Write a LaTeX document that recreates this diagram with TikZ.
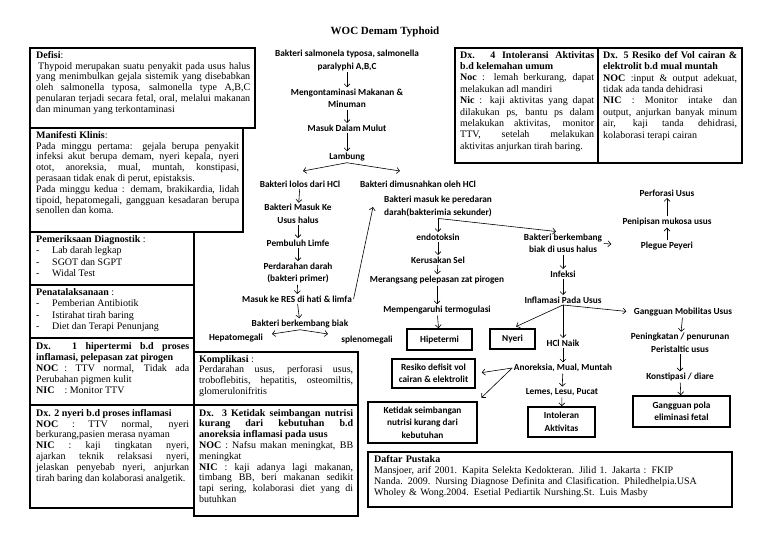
\documentclass[tikz,border=0pt]{standalone}
\usepackage{fontspec}
\setmainfont{Liberation Serif}
\newfontfamily\flowfont{Carlito}
\usetikzlibrary{arrows.meta,calc}
\setlength{\parindent}{0pt}
\hyphenpenalty=10000
\exhyphenpenalty=10000
\tolerance=9999
\emergencystretch=20pt
\begin{document}
\begin{tikzpicture}[x=1pt,y=-1pt,
  flow/.style={font=\flowfont\bfseries\fontsize{9.3}{12.5}\selectfont, align=center, inner sep=1.5pt},
  fbox/.style={flow, draw, line width=1.6pt, inner sep=0pt},
  arr/.style={-{Straight Barb[length=3pt,width=6pt]}, line width=0.6pt},
  frame/.style={line width=1.4pt},
  txt/.style={anchor=north west, inner sep=0pt, align=justify, font=\fontsize{10}{10.8}\selectfont},
]
\fill[white] (0,0) rectangle (768,543);
\useasboundingbox (0,0) rectangle (768,543);

% title
\node[font=\bfseries\fontsize{11}{13}\selectfont] (title) at (385,32) {WOC Demam Typhoid};

% ---------- frames ----------
\draw[frame] (30,48) rectangle (255,128);
\draw[frame] (30,128) rectangle (243,232);
\draw[frame] (30,232) rectangle (194,285);
\draw[frame] (30,285) rectangle (194,338);
\draw[frame] (30,338) rectangle (194,405);
\draw[frame] (30,405) rectangle (194,508);
\draw[frame] (194,352) rectangle (358,405);
\draw[frame] (194,405) rectangle (358,516);
\draw[frame] (455,48) rectangle (742,163);
\draw[frame] (598,48) -- (598,163);
\draw[frame] (368,452) rectangle (732,507);

\node[txt, text width=214pt] (defT) at (36,51) {\textbf{Defisi}:\par
\hspace{2pt}Thypoid merupakan suatu penyakit pada usus halus\linebreak yang menimbulkan gejala sistemik yang disebabkan\linebreak oleh salmonella typosa, salmonella type A,B,C\linebreak penularan terjadi secara fetal, oral, melalui makanan\linebreak dan minuman yang terkontaminasi};

\node[txt, text width=203pt] (manT) at (36,131) {\textbf{Manifesti Klinis}:\par
Pada minggu pertama: gejala berupa penyakit\linebreak infeksi akut berupa demam, nyeri kepala, nyeri\linebreak otot, anoreksia, mual, muntah, konstipasi,\linebreak perasaan tidak enak di perut, epistaksis.\par
Pada minggu kedua : demam, brakikardia, lidah\linebreak tipoid, hepatomegali, gangguan kesadaran berupa\linebreak senollen dan koma.};

\node[txt, text width=153pt, font=\fontsize{10}{11.6}\selectfont] (pemT) at (36,235) {\textbf{Pemeriksaan Diagnostik} :\par
\makebox[16pt][l]{-}Lab darah legkap\par
\makebox[16pt][l]{-}SGOT dan SGPT\par
\makebox[16pt][l]{-}Widal Test};

\node[txt, text width=153pt, font=\fontsize{10}{11.6}\selectfont] (penT) at (36,288) {\textbf{Penatalaksanaan} :\par
\makebox[16pt][l]{-}Pemberian Antibiotik\par
\makebox[16pt][l]{-}Istirahat tirah baring\par
\makebox[16pt][l]{-}Diet dan Terapi Penunjang};

\node[txt, text width=153pt, font=\fontsize{10}{11.2}\selectfont] (dx1T) at (36,342) {\textbf{Dx. 1 hipertermi b.d proses\linebreak inflamasi, pelepasan zat pirogen}\par
\textbf{NOC}\hspace{6pt}: TTV normal, Tidak ada\linebreak Perubahan pigmen kulit\par
\textbf{NIC}\hspace{10pt}: Monitor TTV};

\node[txt, text width=153pt] (dx2T) at (36,409) {\textbf{Dx. 2 nyeri b.d proses inflamasi}\par
\textbf{NOC} : TTV normal, nyeri\linebreak berkurang,pasien merasa nyaman\par
\textbf{NIC} : kaji tingkatan nyeri,\linebreak ajarkan teknik relaksasi nyeri,\linebreak jelaskan penyebab nyeri, anjurkan\linebreak tirah baring dan kolaborasi analgetik.};

\node[txt, text width=154pt] (komT) at (199,355) {\textbf{Komplikasi} :\par
Perdarahan usus, perforasi usus,\linebreak troboflebitis, hepatitis, osteomiltis,\linebreak glomerulonifritis};

\node[txt, text width=154pt] (dx3T) at (199,409) {\textbf{Dx. 3 Ketidak seimbangan nutrisi\linebreak kurang dari kebutuhan b.d\linebreak anoreksia inflamasi pada usus}\par
\textbf{NOC} : Nafsu makan meningkat, BB\linebreak meningkat\par
\textbf{NIC} : kaji adanya lagi makanan,\linebreak timbang BB, beri makanan sedikit\linebreak tapi sering, kolaborasi diet yang di\linebreak butuhkan};

\node[txt, text width=134pt, font=\fontsize{10}{11.4}\selectfont] (dx4T) at (460,51) {\textbf{Dx. 4 Intoleransi Aktivitas\linebreak b.d kelemahan umum}\par
\textbf{Noc} : lemah berkurang, dapat\linebreak melakukan adl mandiri\par
\textbf{Nic} : kaji aktivitas yang dapat\linebreak dilakukan ps, bantu ps dalam\linebreak melakukan aktivitas, monitor\linebreak TTV, setelah melakukan\linebreak aktivitas anjurkan tirah baring.};

\node[txt, text width=134pt, font=\fontsize{10}{11.4}\selectfont] (dx5T) at (603,51) {\textbf{Dx. 5 Resiko def Vol cairan \&\linebreak elektrolit b.d mual muntah}\par
\textbf{NOC} :input \& output adekuat,\linebreak tidak ada tanda dehidrasi\par
\textbf{NIC} : Monitor intake dan\linebreak output, anjurkan banyak minum\linebreak air, kaji tanda dehidrasi,\linebreak kolaborasi terapi cairan};

\node[txt, text width=350pt, align=left, font=\fontsize{10}{11}\selectfont] (dafT) at (374,455) {\textbf{Daftar Pustaka}\par
Mansjoer, arif 2001. Kapita Selekta Kedokteran. Jilid 1. Jakarta : FKIP\par
Nanda. 2009. Nursing Diagnose Definita and Clasification. Philedhelpia.USA\par
Wholey \& Wong.2004. Esetial Pediartik Nurshing.St. Luis Masby};

% ---------- flow ----------
\node[flow] (t1) at (347,60.5) {Bakteri salmonela typosa, salmonella\\paralyphi A,B,C};
\node[flow] (t2) at (347,98.5) {Mengontaminasi Makanan \&\\Minuman};
\node[flow] (t3) at (347,128) {Masuk Dalam Mulut};
\node[flow] (t4) at (347,157) {Lambung};
\node[flow] (L1) at (300,184) {Bakteri lolos dari HCl};
\node[flow] (R1) at (418,184) {Bakteri dimusnahkan oleh HCl};
\node[flow] (L2) at (298,214) {Bakteri Masuk Ke\\Usus halus};
\node[flow] (L3) at (298,243) {Pembuluh Limfe};
\node[flow] (L4) at (298,273) {Perdarahan darah\\(bakteri primer)};
\node[flow] (L5) at (297,299) {Masuk ke RES di hati \& limfa};
\node[flow] (L6) at (300,324) {Bakteri berkembang biak};
\node[flow] (hep) at (236,338) {Hepatomegali};
\node[flow] (spl) at (367,340) {splenomegali};
\node[flow] (R2) at (438,206.5) {Bakteri masuk ke peredaran\\darah(bakterimia sekunder)};
\node[flow] (R3) at (438,237) {endotoksin};
\node[flow] (R4) at (438,260) {Kerusakan Sel};
\node[flow] (R5) at (437,280) {Merangsang pelepasan zat pirogen};
\node[flow] (R6) at (437,310) {Mempengaruhi termogulasi};
\node[fbox, minimum width=65pt, minimum height=21pt] (hip) at (439.5,339.5) {Hipetermi};
\node[flow] (M1) at (563,243.5) {Bakteri berkembang\\biak di usus halus};
\node[flow] (M2) at (563,274) {Infeksi};
\node[flow] (M3) at (563,300) {Inflamasi Pada Usus};
\node[fbox, minimum width=45pt, minimum height=20pt] (nyeri) at (512.5,339) {Nyeri};
\node[flow] (M4) at (563,343) {HCl Naik};
\node[flow] (M5) at (563,368) {Anoreksia, Mual, Muntah};
\node[flow] (M6) at (562,392) {Lemes, Lesu, Pucat};
\node[fbox, minimum width=67pt, minimum height=30pt] (intol) at (561.5,422) {Intoleran\\Aktivitas};
\node[fbox, minimum width=83pt, minimum height=29pt] (resk) at (433.5,373.5) {Resiko defisit vol\\cairan \& elektrolit};
\node[fbox, minimum width=109pt, minimum height=41pt] (ketd) at (422.5,422.5) {Ketidak seimbangan\\nutrisi kurang dari\\kebutuhan};
\node[flow] (P1) at (667,193) {Perforasi Usus};
\node[flow] (P2) at (667,222) {Penipisan mukosa usus};
\node[flow] (P3) at (667,246) {Plegue Peyeri};
\node[flow] (G1) at (683,312) {Gangguan Mobilitas Usus};
\node[flow] (G2) at (680,343) {Peningkatan / penurunan\\Peristaltic usus};
\node[flow] (G3) at (680,377) {Konstipasi / diare};
\node[fbox, minimum width=97pt, minimum height=31pt] (gbox) at (681.5,411.5) {Gangguan pola\\eliminasi fetal};

\coordinate (lamL) at (303,171);
\coordinate (lamR) at (400,171);
\coordinate (hL) at (272,334);
\coordinate (hR) at (328,334);
\coordinate (resEnd) at (373,207);

% ---------- connectors ----------
\draw[arr] (t1) -- (t2);
\draw[arr] (t2) -- (t3);
\draw[arr] (t3) -- (t4);
\draw[arr] (t4.south) -- (lamL);
\draw[arr] (t4.south) -- (lamR);
\draw[arr] (L1) -- (L2);
\draw[arr] (L2) -- (L3);
\draw[arr] (L3) -- (L4);
\draw[arr] (L4) -- (L5);
\draw[arr] (L5) -- (L6);
\draw[arr] (L6.south) -- (hL);
\draw[arr] (L6.south) -- (hR);
\draw[arr] (L5.east) -- (resEnd);
\draw[arr] (R2) -- (R3);
\draw[arr, shorten >=7pt] (R2.south) -- (M1.north);
\draw[arr] (R3) -- (R4);
\draw[arr] (R4) -- (R5);
\draw[arr] (R5) -- (R6);
\draw[arr] (R6) -- (hip);
\draw[arr, shorten >=28pt] (M1.east) -- (P3.west);
\draw[arr] (M1) -- (M2);
\draw[arr] (M2) -- (M3);
\draw[arr, shorten >=4pt] (M3.south) -- (nyeri.north);
\draw[arr, shorten >=6pt] (M3.south) -- (G1.west);
\draw[arr] (M3.south) -- (M4.north);
\draw[arr] (M4) -- (M5);
\draw[arr] (M5) -- (M6);
\draw[arr] (M6) -- (intol);
\draw[arr, shorten >=6pt] (M5.west) -- (resk.east);
\draw[arr, shorten >=5pt] (M5.west) -- (ketd.north east);
\draw[arr] (P3) -- (P2);
\draw[arr] (P2) -- (P1);
\draw[arr] (G1) -- (G2);
\draw[arr] (G2) -- (G3);
\draw[arr] (G3) -- (gbox);
\end{tikzpicture}
\end{document}
